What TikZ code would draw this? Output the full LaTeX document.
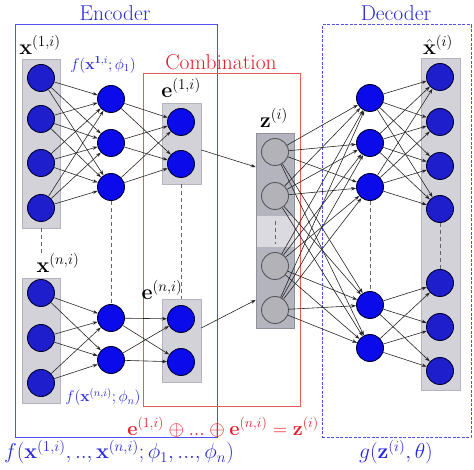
\documentclass[tikz,border=0pt]{standalone}
\usepackage{fix-cm}
\usepackage{amsmath}
\usetikzlibrary{arrows.meta,calc}
\definecolor{encblue}{RGB}{80,80,245}
\definecolor{txtblue}{RGB}{40,40,225}
\definecolor{combred}{RGB}{230,90,90}
\definecolor{txtred}{RGB}{230,30,40}
\definecolor{colgray}{RGB}{210,210,216}
\definecolor{colgrayd}{RGB}{180,180,190}
\definecolor{zgrayl}{RGB}{218,218,224}
\definecolor{nodeblue}{RGB}{10,10,235}
\definecolor{nodeblued}{RGB}{30,30,205}
\tikzset{
  colbox/.style={draw=colgrayd, fill=colgray, line width=0.6pt, inner sep=0pt},
  zbox/.style={draw=colgrayd!80!black, fill=colgrayd, line width=0.6pt, inner sep=0pt},
  neur/.style={circle, draw=black!80!blue, fill=nodeblue, line width=0.9pt, minimum size=27pt, inner sep=0pt},
  neurin/.style={neur, fill=nodeblued},
  zneur/.style={circle, draw=black!65, fill=colgray!85!black, line width=0.9pt, minimum size=27pt, inner sep=0pt},
  conn/.style={-{Stealth[length=5pt,width=3.5pt]}, line width=0.6pt, black!85},
  dsh/.style={dash pattern=on 4pt off 3pt, line width=0.8pt, black!60},
  big/.style={font=\fontsize{21.5}{25}\selectfont},
  eqfont/.style={font=\fontsize{20}{24}\selectfont},
  small/.style={font=\fontsize{15.5}{18}\selectfont},
  frame/.style={color=#1, line width=1pt},
}
\begin{document}
\begin{tikzpicture}[x=1pt,y=-1pt]
\useasboundingbox (0,0) rectangle (474,470);
% boxes
\node[frame=encblue, draw, inner sep=0pt, minimum width=202pt, minimum height=412pt] (BENC) at (116,231) {};
\node[frame=combred, draw, inner sep=0pt, minimum width=157pt, minimum height=332pt] (BCOMB) at (221.5,240) {};
\node[frame=encblue, draw, dash pattern=on 3pt off 1.5pt, inner sep=0pt, minimum width=149pt, minimum height=412pt] (BDEC) at (396.5,231) {};
% titles
\node[big, text=txtblue] (tenc) at (115,13) {Encoder};
\node[big, text=txtblue] (tdec) at (396,13) {Decoder};
\node[big, text=txtred] (tcomb) at (221,62) {Combination};
% columns
\node[colbox, minimum width=38pt, minimum height=169pt] (X1) at (41,143.5) {};
\node[colbox, minimum width=38pt, minimum height=125pt] (XN) at (41,340.5) {};
\node[colbox, minimum width=39pt, minimum height=81pt] (E1) at (181.5,143.5) {};
\node[colbox, minimum width=39pt, minimum height=83pt] (EN) at (181.5,340.5) {};
\node[zbox, minimum width=38pt, minimum height=195pt] (Z) at (275,230.5) {};
\node[fill=zgrayl, inner sep=0pt, minimum width=37pt, minimum height=31pt] (ZM) at (275,231.5) {};
\node[colbox, minimum width=39pt, minimum height=332pt] (O) at (440.5,224) {};
% dashed
\draw[dsh] (X1.south) -- (41,253);
\draw[dsh] (E1.south) -- (EN.north);
\draw[dsh] (275,221) -- (275,244);
% encoder 1
\foreach \n/\y in {a/78,b/119,c/163,d/208} \node[neurin] (x1\n) at (41,\y) {};
\foreach \n/\y in {a/99,b/143,c/187} \node[neur] (h1\n) at (111,\y) {};
\foreach \n/\y in {a/122,b/164} \node[neur] (e1\n) at (181,\y) {};
% encoder n
\foreach \n/\y in {a/293,b/338,c/383} \node[neurin] (xn\n) at (41,\y) {};
\foreach \n/\y in {a/318,b/360} \node[neur] (hn\n) at (111,\y) {};
\foreach \n/\y in {a/319,b/362} \node[neur] (en\n) at (181,\y) {};
% z
\foreach \n/\y in {a/152,b/196,c/266,d/310} \node[zneur] (z\n) at (275,\y) {};
% decoder
\foreach \n/\y in {a/98,b/143,c/187,d/305,e/348} \node[neur] (d\n) at (370,\y) {};
\foreach \n/\y in {a/77,b/122,c/166,d/209,e/283,f/327,g/371} \node[neurin] (o\n) at (440,\y) {};
\draw[dsh] (h1c) -- (hna);
\draw[dsh] (dc) -- (dd);
\draw[dsh] (od) -- (oe);
% connections
\foreach \i in {a,b,c,d} \foreach \j in {a,b,c} \draw[conn] (x1\i) -- (h1\j);
\foreach \i in {a,b,c} \foreach \j in {a,b} \draw[conn] (h1\i) -- (e1\j);
\foreach \i in {a,b,c} \foreach \j in {a,b} \draw[conn] (xn\i) -- (hn\j);
\foreach \i in {a,b} \foreach \j in {a,b} \draw[conn] (hn\i) -- (en\j);
\foreach \i in {a,b,c,d} \foreach \j in {a,b,c,d,e} \draw[conn] (z\i) -- (d\j);
\foreach \i in {a,b,c} \foreach \j in {a,b,c,d} \draw[conn] (d\i) -- (o\j);
\foreach \i in {d,e} \foreach \j in {e,f,g} \draw[conn] (d\i) -- (o\j);
\draw[conn] ([yshift=-6.5pt]E1.east) -- ([yshift=63.5pt]Z.west);
\draw[conn] ([yshift=12.5pt]EN.east) -- ([yshift=-69.5pt]Z.west);
% labels
\node[big] (lx1) at (40,45) {$\mathbf{x}^{(1,i)}$};
\node[big] (lxn) at (58,263) {$\mathbf{x}^{(n,i)}$};
\node[big] (le1) at (181,88) {$\mathbf{e}^{(1,i)}$};
\node[big] (len) at (162,290) {$\mathbf{e}^{(n,i)}$};
\node[big] (lz) at (274,118) {$\mathbf{z}^{(i)}$};
\node[big] (lo) at (438,45) {$\hat{\mathbf{x}}^{(i)}$};
\node[small, text=txtblue] (lf1) at (103,65) {$f(\mathbf{x}^{\mathbf{1},i};\phi_1)$};
\node[small, text=txtblue] (lfn) at (103,397) {$f(\mathbf{x}^{(n,i)};\phi_n)$};
\node[eqfont, text=txtred] (leq) at (223,427) {$\mathbf{e}^{(1,i)}\oplus ... \oplus\mathbf{e}^{(n,i)}=\mathbf{z}^{(i)}$};
\node[big, text=txtblue] (lfall) at (119,452) {$f(\mathbf{x}^{(1,i)},..,\mathbf{x}^{(n,i)};\phi_1,...,\phi_n)$};
\node[big, text=txtblue] (lg) at (396,452) {$g(\mathbf{z}^{(i)},\theta)$};
\end{tikzpicture}
\end{document}
